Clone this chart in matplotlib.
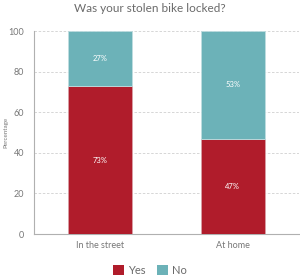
import matplotlib.pyplot as plt
from matplotlib.patches import Patch

categories = ['In the street', 'At home']
yes_values = [73, 47]
no_values = [27, 53]

red = '#B01C2B'
teal = '#6CB2B8'
grey = '#777777'

plt.rcParams['font.family'] = ['Lato', 'DejaVu Sans']

fig = plt.figure(figsize=(3.0, 2.78), dpi=100)
ax = fig.add_axes([0.113, 0.158, 0.884, 0.73])

x = range(len(categories))
bars_yes = ax.bar(x, yes_values, width=0.48, color=red, edgecolor='#d9a0a6', linewidth=0.6, zorder=3)
bars_no = ax.bar(x, no_values, width=0.48, bottom=yes_values, color=teal, edgecolor='#bfdde0', linewidth=0.6, zorder=3)

# percentage labels in the middle of each segment
for i in x:
    ax.text(i, yes_values[i] / 2, f'{yes_values[i]}%', ha='center', va='center',
            color='white', fontsize=5.5, zorder=4)
    ax.text(i, yes_values[i] + no_values[i] / 2, f'{no_values[i]}%', ha='center', va='center',
            color='white', fontsize=5.5, zorder=4)

ax.set_xlim(-0.5, 1.5)
ax.set_ylim(0, 100)
ax.set_yticks([0, 20, 40, 60, 80, 100])
ax.set_xticks(list(x))
ax.set_xticklabels(categories)
ax.tick_params(axis='y', length=0, labelsize=6.5, colors=grey, pad=7)
ax.tick_params(axis='x', length=0, labelsize=6.5, colors=grey, pad=5)
ax.yaxis.grid(True, linestyle=(0, (3, 2)), color='#d0d0d0', linewidth=0.6, zorder=0)

for side in ['top', 'right']:
    ax.spines[side].set_visible(False)
for side in ['left', 'bottom']:
    ax.spines[side].set_color('#b0b0b0')
    ax.spines[side].set_linewidth(0.8)

ax.set_ylabel('Percentage', fontsize=4.5, color=grey)
ax.yaxis.set_label_coords(-0.095, 0.5)

fig.suptitle('Was your stolen bike locked?', x=0.5, y=0.99, fontsize=8.5, color='#6a6a6a')

handles = [Patch(facecolor=red, edgecolor='none', label='Yes'),
           Patch(facecolor=teal, edgecolor='none', label='No')]
fig.legend(handles=handles, loc='center', bbox_to_anchor=(0.5, 0.028), ncol=2, frameon=False,
           fontsize=8, handlelength=1.0, handleheight=1.0, handletextpad=0.4, columnspacing=1.0,
           labelcolor='#6a6a6a')

fig.savefig('out.png', dpi=100)
